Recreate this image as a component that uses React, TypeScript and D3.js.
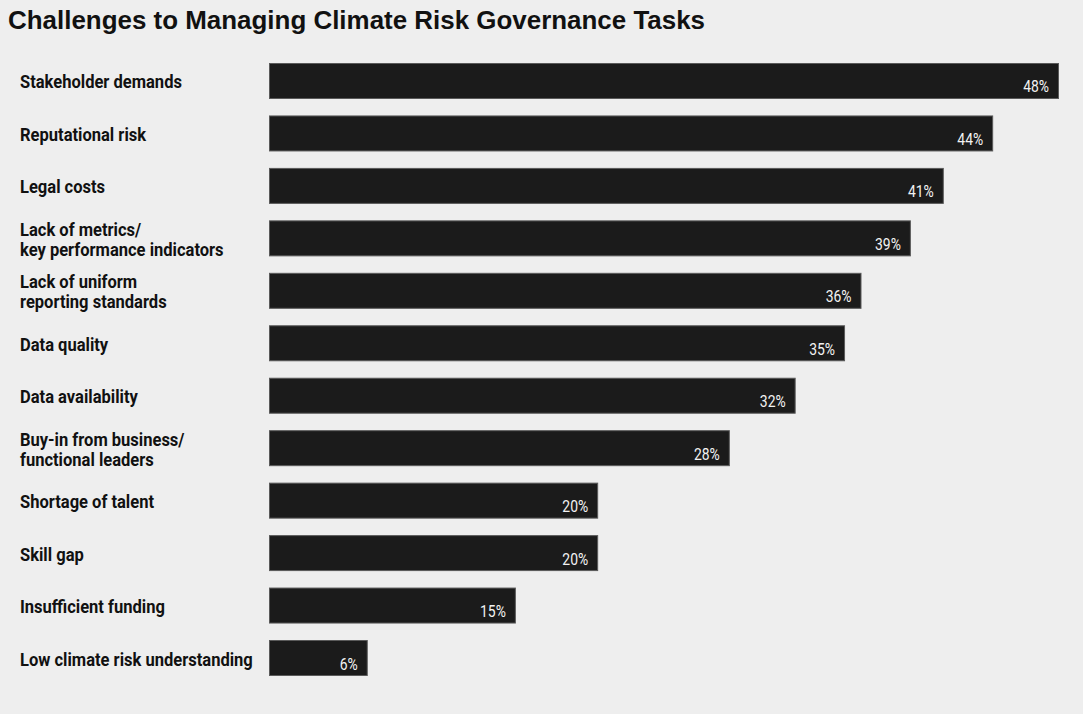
import React, { useEffect, useRef } from "react";
import * as d3 from "d3";

const categories: string[][] = [
  ["Stakeholder demands"],
  ["Reputational risk"],
  ["Legal costs"],
  ["Lack of metrics/", "key performance indicators"],
  ["Lack of uniform", "reporting standards"],
  ["Data quality"],
  ["Data availability"],
  ["Buy-in from business/", "functional leaders"],
  ["Shortage of talent"],
  ["Skill gap"],
  ["Insufficient funding"],
  ["Low climate risk understanding"],
];
const values: number[] = [48, 44, 41, 39, 36, 35, 32, 28, 20, 20, 15, 6];
const title = "Challenges to Managing Climate Risk Governance Tasks";

const W = 1083;
const H = 714;

export default function App() {
  const ref = useRef<SVGSVGElement | null>(null);
  useEffect(() => {
    document.body.style.margin = "0";
    document.body.style.background = "#eeeeee";
    const svg = d3.select(ref.current);
    svg.selectAll("*").remove();
    svg.append("rect").attr("width", W).attr("height", H).attr("fill", "#eeeeee");

    const t = svg
      .append("text")
      .attr("x", 8)
      .attr("y", 29)
      .attr("font-family", "Liberation Sans, Arial, sans-serif")
      .attr("font-weight", "bold")
      .attr("font-size", 25)
      .attr("fill", "#111")
      .text(title);
    const tw = (t.node() as SVGTextElement).getComputedTextLength();
    t.attr("textLength", 697).attr("lengthAdjust", "spacingAndGlyphs");
    void tw;

    const ids = categories.map((_, i) => String(i));
    const y = d3.scaleBand<string>().domain(ids).range([63, 676]).paddingInner(0.314).paddingOuter(0);
    const x = d3.scaleLinear().domain([0, 48]).range([269, 1059]);

    const g = svg.append("g");
    const rows = g
      .selectAll("g.row")
      .data(values.map((v, i) => ({ v, i, lab: categories[i] })))
      .join("g")
      .attr("class", "row");

    rows
      .append("rect")
      .attr("x", x(0) + 0.5)
      .attr("y", (d) => (y(String(d.i)) as number) + 0.5)
      .attr("width", (d) => x(d.v) - x(0) - 1)
      .attr("height", y.bandwidth() - 1)
      .attr("fill", "#1b1b1b")
      .attr("stroke", "#5a5a5a")
      .attr("stroke-width", 1);

    // value labels (condensed look via horizontal scaling)
    const vsx = 0.82;
    rows
      .append("text")
      .attr("transform", (d) => `translate(${x(d.v) - 10},${(y(String(d.i)) as number) + y.bandwidth() - 6.5}) scale(${vsx},1)`)
      .attr("text-anchor", "end")
      .attr("font-family", "Roboto, sans-serif")
      .attr("font-size", 17)
      .attr("fill", "#f2f2f2")
      .text((d) => `${d.v}%`);

    // category labels
    const labelTexts: SVGTextElement[] = [];
    rows.each(function (d) {
      const sel = d3.select(this);
      const cy = (y(String(d.i)) as number) + y.bandwidth() / 2;
      const n = d.lab.length;
      const lh = 20;
      d.lab.forEach((line, k) => {
        const tx = sel
          .append("text")
          .attr("transform", `translate(20,${cy + (k - (n - 1) / 2) * lh + 7.5})`)
          .attr("font-family", "Roboto, sans-serif")
          .attr("font-weight", "bold")
          .attr("font-size", 18)
          .attr("fill", "#111")
          .text(line);
        labelTexts.push(tx.node() as SVGTextElement);
      });
    });
    const longest = d3.max(labelTexts, (n) => n.getComputedTextLength()) || 1;
    const sx = 233 / longest;
    labelTexts.forEach((n) => {
      const tr = n.getAttribute("transform") || "";
      n.setAttribute("transform", `${tr} scale(${sx},1)`);
    });
  }, []);
  return <svg ref={ref} width={W} height={H} style={{ display: "block" }} />;
}
